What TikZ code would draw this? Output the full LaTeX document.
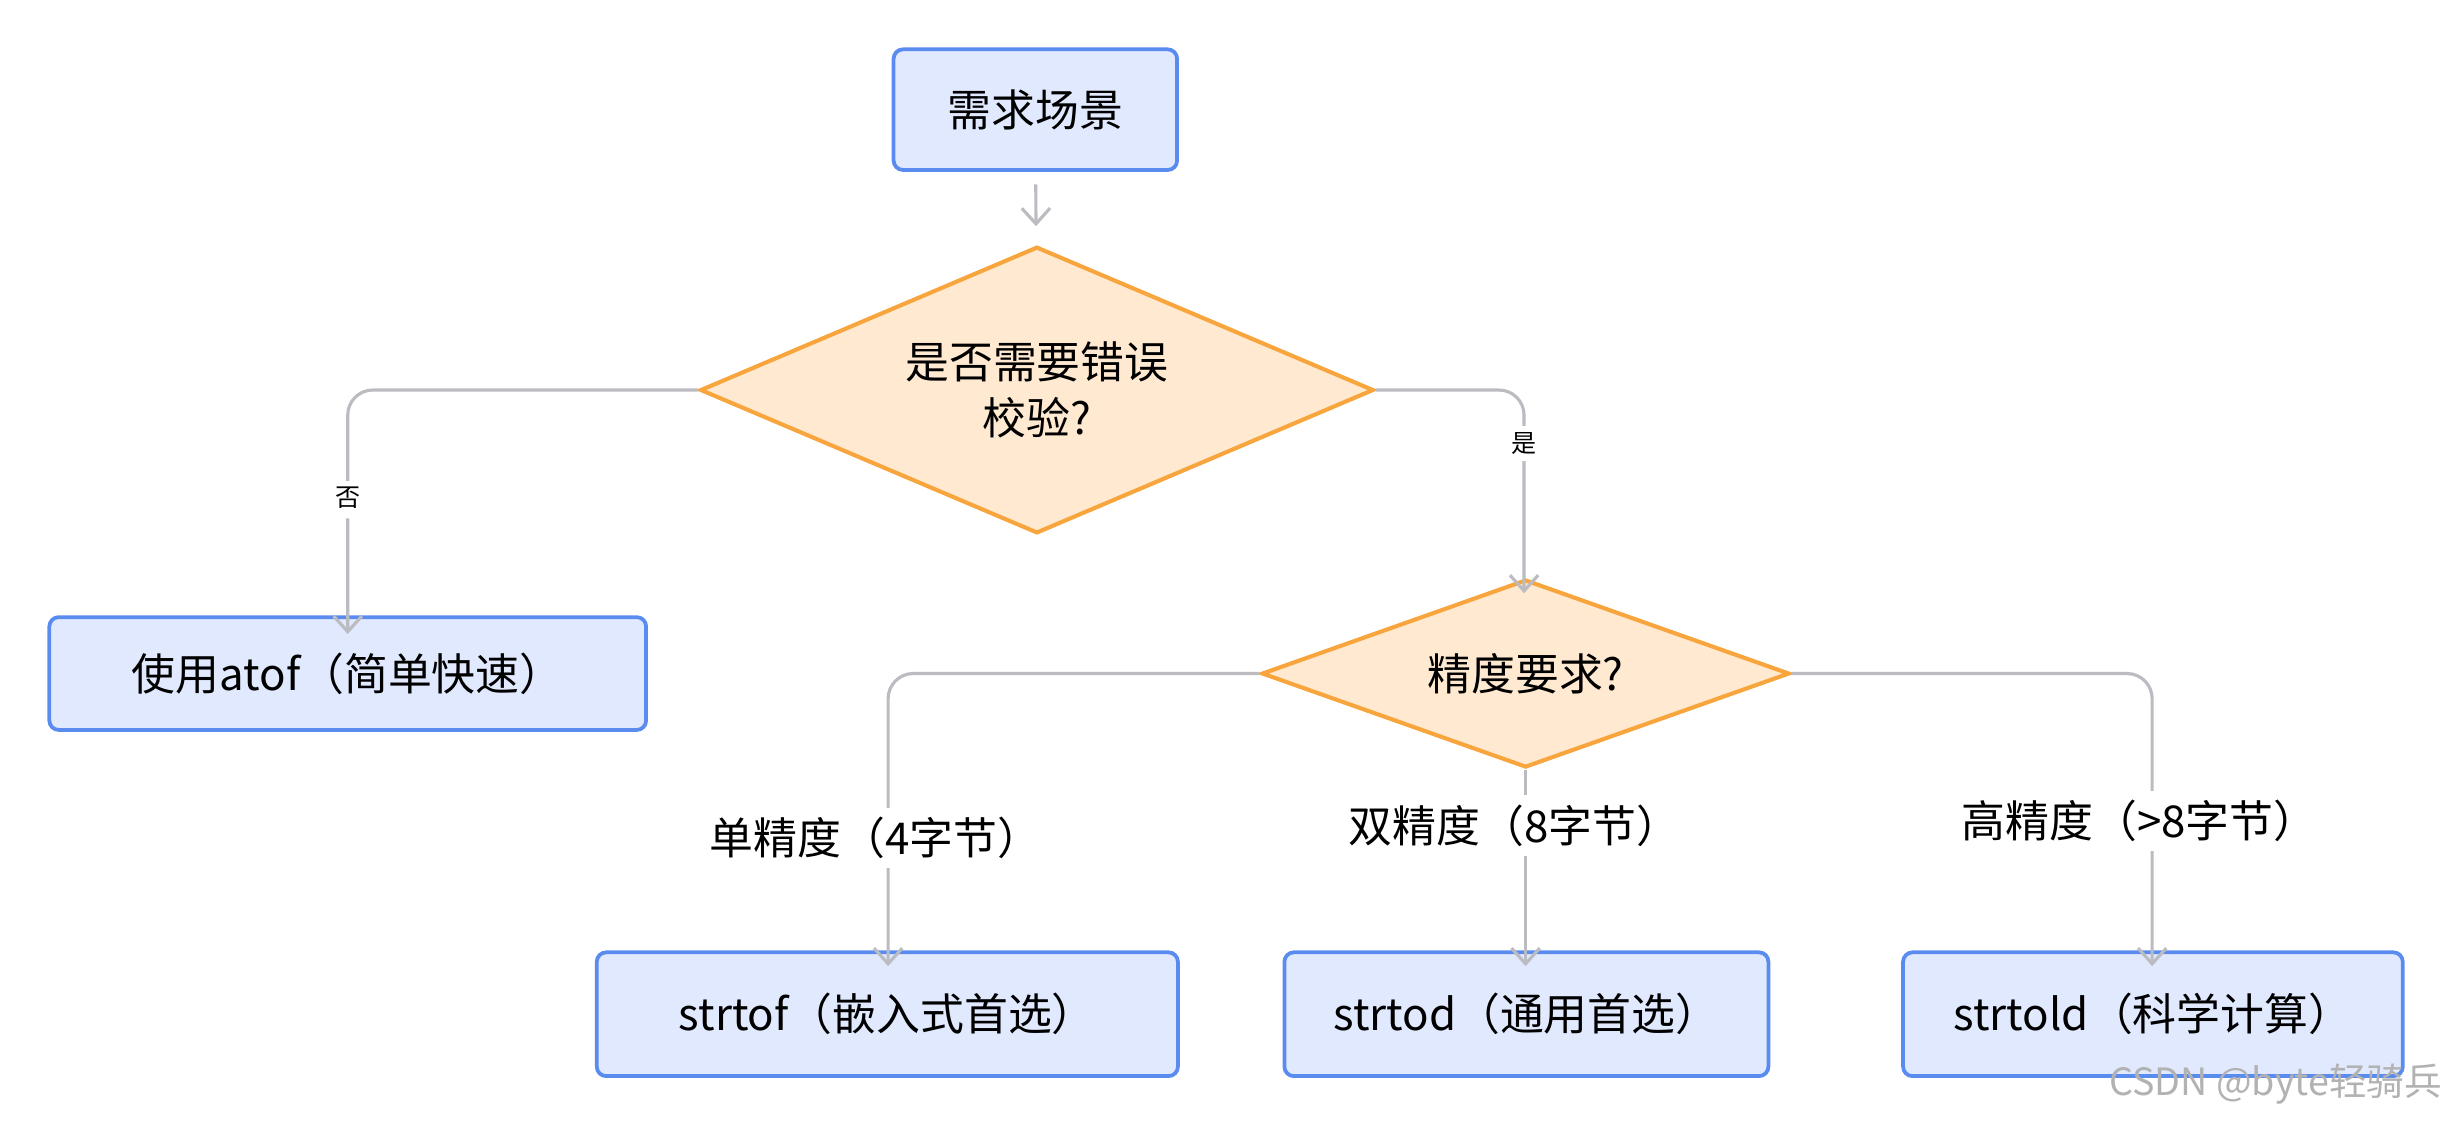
\documentclass[tikz,border=0pt]{standalone}
\usepackage{fontspec}
\setmainfont{Noto Sans CJK SC}
\usetikzlibrary{shapes.geometric,arrows.meta}
\definecolor{bfill}{HTML}{E1E9FE}
\definecolor{bdraw}{HTML}{5A8CF0}
\definecolor{dfill}{HTML}{FFE9D0}
\definecolor{ddraw}{HTML}{F7A53C}
\definecolor{lgray}{HTML}{BBBBC2}
\begin{document}
\begin{tikzpicture}[x=0.5pt,y=-0.5pt,
  box/.style={draw=bdraw,fill=bfill,line width=1.2pt,rounded corners=3pt,font=\fontsize{14}{16}\selectfont},
  dia/.style={draw=ddraw,fill=dfill,line width=1.3pt,diamond,aspect=2.35,inner sep=0pt,font=\fontsize{14}{18}\selectfont,align=center},
  conn/.style={draw=lgray,line width=1pt,rounded corners=8pt,-{Straight Barb[length=5pt,width=9pt]}},
  lab/.style={fill=white,font=\fontsize{14}{16}\selectfont,inner sep=3pt},
  slab/.style={fill=white,font=\fontsize{8}{10}\selectfont,inner sep=2pt}]
\useasboundingbox (0,0) rectangle (1568,720);
\node[box,minimum width=90.5pt,minimum height=38.5pt] (start) at (661,70) {需求场景};
\node[dia,minimum width=215pt,minimum height=91.5pt] (d1) at (662,249) {是否需要错误\\校验?};
\node[box,minimum width=190.5pt,minimum height=36pt] (atof) at (222,430) {使用atof（简单快速）};
\node[dia,minimum width=168.5pt,minimum height=60pt] (d2) at (974,430) {精度要求?};
\node[box,minimum width=185.5pt,minimum height=39.5pt] (f) at (566.5,647.5) {strtof（嵌入式首选）};
\node[box,minimum width=154.5pt,minimum height=39.5pt] (dd) at (974.5,647.5) {strtod（通用首选）};
\node[box,minimum width=159.5pt,minimum height=39.5pt] (ld) at (1374.5,647.5) {strtold（科学计算）};
\coordinate (c1) at (222,249);
\coordinate (c2) at (973,249);
\coordinate (c3) at (567,430);
\coordinate (c4) at (1374,430);
\draw[conn,shorten >=6pt,shorten <=4pt] (start) -- (d1);
\draw[conn] (d1.west) -- (c1) -- ([yshift=-6pt]atof.north -| c1) node[slab,pos=0.5] at (222,318) {};
\node[slab] (no) at (222,318) {否};
\draw[conn] (d1.east) -- (c2) -- ([yshift=-5pt]d2.north -| c2);
\node[slab] (yes) at (973,283) {是};
\draw[conn] (d2.west) -- (c3) -- ([yshift=-5pt]f.north -| c3);
\draw[conn] (d2.south) -- ([yshift=-5pt]dd.north -| d2.south);
\draw[conn] (d2.east) -- (c4) -- ([yshift=-5pt]ld.north -| c4);
\node[lab] (l1) at (559,535) {单精度（4字节）};
\node[lab] (l2) at (967,527) {双精度（8字节）};
\node[lab] (l3) at (1366,524) {高精度（>8字节）};
\node[text=gray!60,font=\fontsize{12}{14}\selectfont,anchor=east] (wm) at (1566,692) {CSDN @byte轻骑兵};
\end{tikzpicture}
\end{document}
